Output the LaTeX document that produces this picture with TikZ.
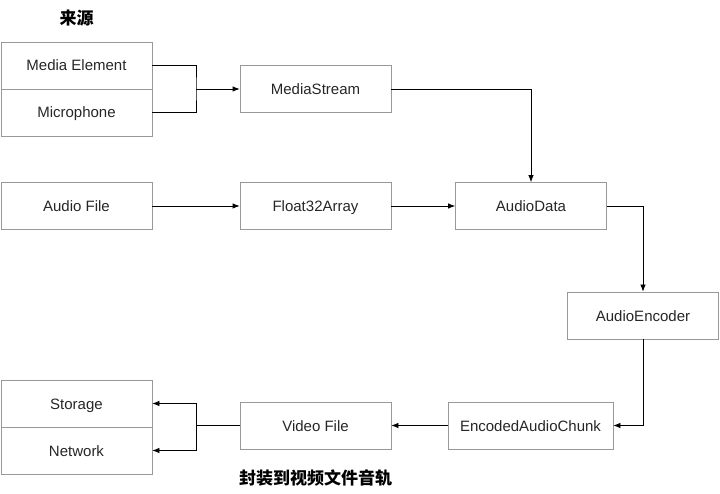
\documentclass[tikz,border=0pt]{standalone}
\usepackage{fontspec}
\setmainfont{Liberation Sans}
\newfontfamily\cjk{Noto Sans CJK SC}
\usetikzlibrary{arrows.meta,positioning}

\tikzset{
  box/.style={draw=black!40, line width=0.8pt, minimum width=151pt, minimum height=47pt,
    inner sep=0pt, text height=12.5pt, text depth=1.5pt, text=black!85,
    font=\fontsize{15}{18}\selectfont},
  link/.style={line width=0.8pt},
  flow/.style={link, -{Latex[length=7pt,width=5.5pt]}},
  title/.style={font=\cjk\bfseries\fontsize{17}{20}\selectfont}
}

\begin{document}
\begin{tikzpicture}[x=1pt,y=-1pt]
    \useasboundingbox (0,0) rectangle (720,494);

    % sources
    \node[title] (srclabel) at (76.5,18) {来源};
    \node[box] (media) at (76.5,65.5) {Media Element};
    \node[box] (mic) at (76.5,112.5) {Microphone};
    \node[box] (file) at (76.5,206) {Audio File};

    \node[box] (stream) at (315.5,89) {MediaStream};
    \node[box] (float) at (315.5,206) {Float32Array};
    \node[box] (data) at (531,206) {AudioData};
    \node[box] (encoder) at (643,315.5) {AudioEncoder};
    \node[box, minimum width=165pt] (chunk) at (530.5,425.5) {EncodedAudioChunk};
    \node[box] (video) at (315.5,425.5) {Video File};

    % outputs
    \node[box] (storage) at (76.5,403.5) {Storage};
    \node[box] (network) at (76.5,450.5) {Network};
    \node[title] (packlabel) at (315.5,478) {封装到视频文件音轨};

    \coordinate (srcjoin) at (196,89);
    \coordinate (outjoin) at (196,425.5);

    \draw[link] (media.east) -| (srcjoin) |- (mic.east);
    \draw[flow] (srcjoin) -- (stream);
    \draw[flow] (stream) -| (data);
    \draw[flow] (file) -- (float);
    \draw[flow] (float) -- (data);
    \draw[flow] (data) -| (encoder);
    \draw[flow] (encoder) |- (chunk);
    \draw[flow] (chunk) -- (video);
    \draw[link] (video) -- (outjoin);
    \draw[flow] (outjoin) |- (storage);
    \draw[flow] (outjoin) |- (network);
\end{tikzpicture}
\end{document}
